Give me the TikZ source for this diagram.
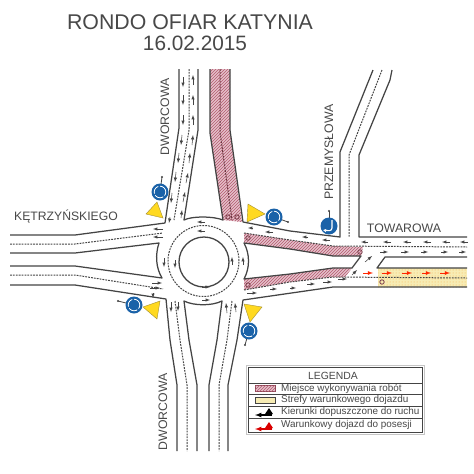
\documentclass[tikz,border=0pt]{standalone}
\usepackage{fontspec}
\setmainfont{Liberation Sans}
\usetikzlibrary{arrows.meta,calc,positioning,patterns}
\definecolor{jezdnia}{HTML}{444444}
\definecolor{napis}{HTML}{484848}
\definecolor{roboty}{HTML}{E6C0CA}
\definecolor{kreska}{HTML}{B25A6E}
\definecolor{strefa}{HTML}{F7ECB4}
\definecolor{znak}{HTML}{1A62A8}
\definecolor{trojkat}{HTML}{FFD920}
\tikzset{
  krawedz/.style={draw=jezdnia,line width=1.25pt,line join=round},
  os/.style={draw=jezdnia,line width=1pt,dash pattern=on 1.8pt off 1.1pt},
  strzalka/.style={-latex,draw=jezdnia,line width=0.55pt},
  czerwona/.style={-latex,draw=red!70!orange,line width=0.8pt},
  strefarobot/.style={fill=roboty,postaction={pattern=north east lines,pattern color=kreska}},
  tekst/.style={text=napis,inner sep=0pt},
  wiersz/.style={tekst,anchor=west,font=\fontsize{9.9}{12}\selectfont},
}
\newcommand{\znakrondo}[4]{%
  \draw[jezdnia,line width=0.8pt] (#1,#2) -- (#3,#4);
  \fill[jezdnia] (#3,#4) circle (1.1pt);
  \fill[znak] (#1,#2) circle (8.5pt);
  \draw[white,line width=0.8pt,dash pattern=on 9pt off 1.8pt] (#1,#2) circle (5.8pt);
}
\begin{document}
\begin{tikzpicture}[x=1pt,y=-1pt]
\useasboundingbox (0,0) rectangle (474,474);
\fill[white] (0,0) rectangle (474,474);
% --- naglowek ---
\node[tekst,font=\fontsize{21.3}{24}\selectfont] (tytul) at (190,22) {RONDO OFIAR KATYNIA};
\node[tekst,font=\fontsize{20.8}{24}\selectfont] (data) at (195,43) {16.02.2015};
% --- strefy robot i dojazdu ---
\path[strefarobot] (210,69) -- (210,133) -- (223,220) -- (242,222) -- (230,130) -- (230,69) -- cycle;
\path[strefarobot] (244,233) -- (290,240) -- (333,246) -- (363,247) -- (361,256) -- (333,256) -- (290,249) -- (244,243) -- cycle;
\path[strefarobot] (244,279) -- (290,274) -- (333,268) -- (352,268) -- (345,277) -- (333,277) -- (290,282) -- (244,290) -- cycle;
\path[fill=strefa,postaction={pattern=dots,pattern color=orange!55!strefa}] (378,268) rectangle (467,287);
% --- krawedzie jezdni ---
\draw[krawedz] (179,69) -- (179,128) -- (165,223) -- (75,235) -- (10,235);
\draw[krawedz] (198,69) -- (198,130) -- (184,220) .. controls (192,216) and (213,216) .. (223,220) -- (210,133) -- (210,69);
\draw[krawedz] (230,69) -- (230,130) -- (243,222) -- (290,231) -- (340,237) -- (340,152) -- (373,70);
\draw[krawedz] (392,70) -- (390,80) -- (359,155) -- (359,237) -- (467,237);
\draw[krawedz] (10,253) -- (75,253) -- (159,243) .. controls (155,255) and (156,268) .. (162,278) -- (75,266) -- (10,266);
\draw[krawedz] (10,285) -- (75,285) -- (166,299) -- (170,340) -- (177,385) -- (177,451);
\draw[krawedz] (197,451) -- (197,385) -- (189,340) -- (184,301) .. controls (194,306) and (212,306) .. (222,301) -- (217,340) -- (209,385) -- (209,451);
\draw[krawedz] (228,451) -- (228,385) -- (237,340) -- (243,300) -- (333,287) -- (467,287);
\draw[krawedz] (244,243) -- (290,249) -- (333,256) -- (361,256) -- (352,268) -- (333,268) -- (290,274) -- (244,279) .. controls (250,268) and (250,254) .. cycle;
\draw[krawedz] (467,257) -- (385,257) -- (377,268) -- (467,268);
% --- osie jezdni ---
\draw[os] (189,69) -- (189,130) -- (174,220);
\draw[os,draw=kreska!60!black] (220,69) -- (220,132) -- (232,220);
\draw[os] (382,70) -- (349,155) -- (349,237);
\draw[os] (10,244) -- (75,244) -- (163,233);
\draw[os] (10,275) -- (75,275) -- (163,289);
\draw[os] (175,301) -- (180,340) -- (187,385) -- (187,451);
\draw[os] (232,301) -- (227,340) -- (219,385) -- (219,451);
\draw[os] (244,233) -- (290,240) -- (333,246) -- (467,247);
\draw[os] (244,290) -- (290,282) -- (333,277) -- (467,278);
% --- rondo ---
\draw[krawedz,line width=1.3pt] (204,262) circle (25pt);
\draw[os] (203.5,261) circle (35.5pt);
% --- kierunki ruchu ---
\foreach \xa/\ya/\xb/\yb in {183/77/183/87,183/95/183/105,183/115/183/125,182/135/181/145,179/153/178/163,176/172/175/182,172/193/171/203,170/217/169/223,
  193/85/193/75,193/105/193/95,193/125/193/115,192/145/193/135,189/163/190/153,186/183/188/173,183/202/185/192,181/218/182/210,
  163/229/153/229,163/237/153/237,152/283/162/283,150/288/160/288,153/293/153/298,
  171/302/171/312,178/302/178/311,227/313/226/303,236/312/235/303,
  205/222/197/222,205/231/197/231,164/258/164/267,175/260/175/268,202/287/210/287,202/300/210/300,232/265/232/257,243/265/243/257,
  273/232/265/232,253/228/248/228,308/237/302/237,330/240/322/240,
  247/293/257/293,270/289/277/289,290/288/296/288,307/284/315/284,323/282/332/282,338/279/347/279,
  368/242/361/242,391/242/383/242,411/242/403/242,431/242/423/242,450/242/442/242,468/242/460/242,
  380/252/388/252,401/252/409/252,421/252/428/252,441/252/448/252,459/252/466/252,
  365/262/372/256,352/275/357/270}
  \draw[strzalka] (\xa,\ya) -- (\xb,\yb);
\foreach \xa/\ya/\xb/\yb in {363/273/373/273,382/273/392/273,402/273/412/273,422/273/431/273,440/273/450/273}
  \draw[czerwona] (\xa,\ya) -- (\xb,\yb);
% --- oznaczenia stref ---
\foreach \x/\y in {228/217,237/217,248/238,248/285,360/252,382/282}
  \draw[kreska!70!black,line width=0.8pt] (\x,\y) circle (2.2pt);
% --- znaki ---
\fill[trojkat,draw=jezdnia!50!trojkat,line width=0.4pt] (157,202) -- (146,214) -- (163,218) -- cycle;
\fill[trojkat,draw=jezdnia!50!trojkat,line width=0.4pt] (248,204) -- (247,222) -- (265,214) -- cycle;
\fill[trojkat,draw=jezdnia!50!trojkat,line width=0.4pt] (160,301) -- (143,307) -- (157,319) -- cycle;
\fill[trojkat,draw=jezdnia!50!trojkat,line width=0.4pt] (244,304) -- (262,307) -- (250,322) -- cycle;
\znakrondo{160}{192}{162}{177}
\znakrondo{274}{217}{288}{222}
\znakrondo{134}{305}{118}{301}
\znakrondo{249}{331}{245}{345}
\draw[jezdnia,line width=0.8pt] (329,226) -- (329,211);
\fill[jezdnia] (329,211) circle (1.1pt);
\fill[znak] (329,226) circle (8.5pt);
\draw[white,line width=1.1pt,-{Latex[length=3pt,width=3.5pt]}] (332,220) -- (332,228) .. controls (332,231) and (328,231) .. (323,230);
% --- nazwy ulic ---
\node[tekst,rotate=90,font=\fontsize{12.3}{14}\selectfont] (dworcowagora) at (165,117) {DWORCOWA};
\node[tekst,rotate=90,font=\fontsize{12.3}{14}\selectfont] (dworcowadol) at (163,412) {DWORCOWA};
\node[tekst,rotate=90,font=\fontsize{12.3}{14}\selectfont] (przemyslowa) at (329,152) {PRZEMYSŁOWA};
\node[tekst,font=\fontsize{12.3}{14}\selectfont] (towarowa) at (404,228) {TOWAROWA};
\node[tekst,font=\fontsize{12.2}{14}\selectfont] (ketrzynskiego) at (66,216) {KĘTRZYŃSKIEGO};
% --- legenda ---
\draw[gray!45,line width=0.8pt] (246,365) rectangle (424,434);
\draw[jezdnia,line width=0.7pt] (248,367) rectangle (422,432);
\foreach \y in {383,394,406,418}
  \draw[jezdnia,line width=0.6pt] (248,\y) -- (422,\y);
\node[tekst,font=\fontsize{10.4}{12}\selectfont] (legenda) at (333,376) {LEGENDA};
\path[strefarobot,draw=kreska!80!black,line width=0.6pt] (255,385) rectangle (275,391);
\path[draw=jezdnia,fill=strefa,line width=0.6pt] (255,397) rectangle (275,403);
\draw[-latex,draw=black,line width=1.2pt] (272,415) -- (255,415);
\fill[black] (265,414) -- (269,408) -- (273,414) -- cycle;
\draw[-latex,draw=red!85!black,line width=1.2pt] (272,429) -- (255,429);
\fill[red!85!black] (265,428) -- (269,422) -- (273,428) -- cycle;
\node[wiersz] (opisroboty) at (281,388.5) {Miejsce wykonywania robót};
\node[wiersz] (opisstrefy) at (281,400) {Strefy warunkowego dojazdu};
\node[wiersz] (opiskierunki) at (281,412) {Kierunki dopuszczone do ruchu};
\node[wiersz] (opisdojazd) at (281,424.5) {Warunkowy dojazd do posesji};
\end{tikzpicture}
\end{document}
